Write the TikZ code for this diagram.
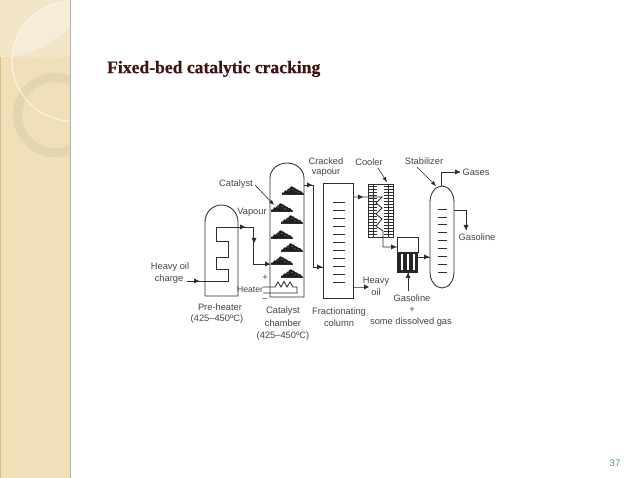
\documentclass[tikz,border=0pt]{standalone}
\usepackage{fontspec}
\setmainfont{Liberation Sans}
\newfontfamily\titlefont[FakeBold=0.6]{Liberation Serif Bold}
\usetikzlibrary{arrows.meta,patterns,calc}
\definecolor{ink}{HTML}{2E2E2E}
\definecolor{txt}{HTML}{454545}
\definecolor{panelA}{HTML}{EFDFB6}
\definecolor{panelB}{HTML}{F3E6C8}
\definecolor{lobeC}{HTML}{F6EDD8}
\definecolor{ringC}{HTML}{E3D5B2}
\definecolor{arcC}{HTML}{FBF5E2}
\definecolor{titleC}{HTML}{3E1410}
\definecolor{pageC}{HTML}{5B8A92}
\tikzset{
 lab/.style={font=\fontsize{9.3}{11}\selectfont,text=txt,align=center,inner sep=0pt},
 vessel/.style={draw=ink,line width=.85pt},
 pipe/.style={draw=ink,line width=.85pt},
 lead/.style={draw=ink,line width=.6pt,-{Latex[length=5pt,width=4pt]}},
 tick/.style={draw=ink,line width=.85pt},
}
% arrow marks along pipes
\newcommand{\tipR}[2]{\fill[ink] (#1,#2) -- ++(-5,-2.5) -- ++(0,5) -- cycle;}
\newcommand{\tipD}[2]{\fill[ink] (#1,#2) -- ++(-2.5,-5) -- ++(5,0) -- cycle;}
\newcommand{\tipU}[2]{\fill[ink] (#1,#2) -- ++(-2.5,5) -- ++(5,0) -- cycle;}
\newcommand{\heap}[2]{%
 \fill[black!88] (#1,#2) -- ++(0,-1.2) -- ++(2,-.4) -- ++(1,-2) -- ++(2,.2) -- ++(1,-1.8) -- ++(1.5,-.2) -- ++(.8,-1.6) -- ++(1.6,-.7) -- ++(1.4,1) -- ++(1.6,.4) -- ++(1,1.3) -- ++(2,.6) -- ++(1.2,1.2) -- ++(2.4,.6) -- ++(1,1.4) -- ++(1.2,.2) -- ++(0,1) -- cycle;
 \fill[white] ($(#1,#2)+(7,-3.3)$) circle (.4) ($(#1,#2)+(11,-4.4)$) circle (.4) ($(#1,#2)+(14,-2.1)$) circle (.4) ($(#1,#2)+(17,-1.6)$) circle (.35);
 \draw[ink,line width=.5pt] (#1,#2) -- ++(22,0);}
\begin{document}
\begin{tikzpicture}[x=1pt,y=-1pt]
\useasboundingbox (0,0) rectangle (638,478);
\fill[white] (0,0) rectangle (638,478);
% side panel
\begin{scope}
\clip (0,0) rectangle (70,478);
\fill[panelA] (0,0) rectangle (70,478);
\fill[pattern=crosshatch dots,pattern color=panelB] (0,0) rectangle (70,478);
\fill[panelB] (0,0) rectangle (70,57);
\begin{scope}
\clip (72,61) circle (60);
\fill[lobeC] (0,0) -- (0,58) -- (12,57) .. controls (35,52) and (55,42) .. (70,27) -- (70,0) -- cycle;
\end{scope}
\draw[ringC,line width=9pt] (55,115) circle (37.5);
\draw[arcC,line width=1pt] (72,61) circle (60);
\end{scope}
\draw[black!30,line width=.7pt] (70,0) -- (70,478);
\fill[panelA!65!brown] (0,57) rectangle (1,478);
% title and page
\node[font=\titlefont\fontsize{17.6}{20}\selectfont,text=titleC,anchor=west,inner sep=0pt] (title) at (107,69) {Fixed-bed catalytic cracking};
\node[font=\fontsize{9.5}{11}\selectfont,text=pageC,inner sep=0pt] (page) at (615,463) {37};
% pre-heater
\draw[vessel] (205,296) -- (205,222) arc[start angle=180,end angle=360,x radius=16.5,y radius=17] -- (238,296) -- cycle;
% chamber
\draw[vessel] (270,297) -- (270,178) arc[start angle=180,end angle=360,x radius=17,y radius=15] -- (304,297) -- cycle;
% catalyst beds
\heap{282}{194}\heap{271}{211}\heap{281}{223}\heap{271}{238}\heap{281}{251}\heap{271}{264}\heap{281}{277}
% heater
\draw[pipe] (263,287) -- (275,287) -- (278,282) -- (281,287) -- (284,281.5) -- (287,287) -- (290,282) -- (293,287) -- (297,287) -- (297,293) -- (263,293);
% coil in preheater and its line to the chamber
\draw[pipe] (187,281) -- (228,281) -- (228,269) -- (216,269) -- (216,257) -- (228,257) -- (228,241) -- (216,241) -- (216,227) -- (253,227) -- (253,264) -- (270,264);
\tipR{199}{281}\tipR{245}{227}\tipD{254}{243}\tipR{270}{264}
% vapour line
\draw[pipe] (304,185) -- (313,185) -- (313,267) -- (323,267);
\tipR{312}{185}\tipR{322}{267}
% column
\draw[vessel] (323,183) rectangle (353,298);
\foreach \y in {202,210,218,226,234,242,250,258,266,274,282}{\draw[tick] (333,\y) -- (345,\y);}
% cooler
\foreach \y in {186,189,...,235}{\draw[ink,line width=.7pt] (368,\y) -- (393,\y);}
\foreach \x in {373,388}{\draw[ink,line width=1pt] (\x,184) -- (\x,237);}
\fill[white] (377,185) rectangle (384,236);
\draw[vessel] (368,184) rectangle (393,237);
\draw[pipe] (353,197) -- (382,197) -- (376,203) -- (382,208) -- (376,214) -- (382,219) -- (376,226) -- (383,231) -- (383,247) -- (397,247);
\tipR{363}{197}\tipR{396}{247}
% receiver
\draw[vessel] (397,237) rectangle (418,252);
\fill[black!85] (397,252) rectangle (418,273);
\foreach \x in {402,408,414}{\fill[white] (\x-1.2,254) rectangle (\x+1.2,270);}
\draw[pipe] (418,257) -- (430,257);
\tipR{429}{257}
\coordinate (g0) at (408,291);
\draw[pipe] (g0) -- (408,273);
\tipU{408}{273}
% stabilizer
\draw[vessel] (430,202) arc[start angle=180,end angle=360,x radius=12,y radius=16] -- (454,272) arc[start angle=0,end angle=180,x radius=12,y radius=16] -- cycle;
\foreach \y in {209,217,224,232,240,248,256,264,272}{\draw[tick] (438,\y) -- (447,\y);}
\draw[pipe] (441,186) -- (441,172) -- (460,172);
\tipR{460}{172}
\draw[pipe] (454,210) -- (466,210) -- (466,230);
\tipD{466}{230}
% heavy oil
\draw[black!55,line width=.6pt] (354,287) -- (364,287);
\tipR{369}{287}
% leaders
\draw[lead] (255,185) -- (274,205);
\draw[lead] (378,168) -- (387,182);
\draw[lead] (417,167) -- (436,186);
% labels
\node[lab] (l1) at (236,184) {Catalyst};
\node[lab] (l2) at (252,212) {Vapour};
\node[lab] (l3) at (170,267) {Heavy oil};
\node[lab] (l3b) at (169,279) {charge};
\node[lab] (l4) at (220,307) {Pre-heater};
\node[lab] (l6) at (217,319) {(425--450ºC)};
\node[lab] (l7) at (283,311) {Catalyst};
\node[lab] (l8) at (283,323) {chamber};
\node[lab] (l9) at (283,336) {(425--450ºC)};
\node[lab] (l10) at (326,161) {Cracked};
\node[lab] (l11) at (326,173) {vapour};
\node[lab] (l12) at (369,162) {Cooler};
\node[lab] (l13) at (424,161) {Stabilizer};
\node[lab] (l14) at (476,172) {Gases};
\node[lab] (l15) at (477,237) {Gasoline};
\node[lab] (l16) at (376,281) {Heavy};
\node[lab] (l17) at (376,292) {oil};
\node[lab] (l18) at (412,298) {Gasoline};
\node[lab] (l19) at (412,310) {+};
\node[lab] (l20) at (411,322) {some dissolved gas};
\node[lab] (l21) at (339,312) {Fractionating};
\node[lab] (l22) at (339,323) {column};
\node[lab,font=\fontsize{8.6}{10}\selectfont] (l23) at (250,290) {Heater};
\node[lab] (l24) at (265,278) {+};
\node[lab] (l25) at (265,300) {--};
\end{tikzpicture}
\end{document}
